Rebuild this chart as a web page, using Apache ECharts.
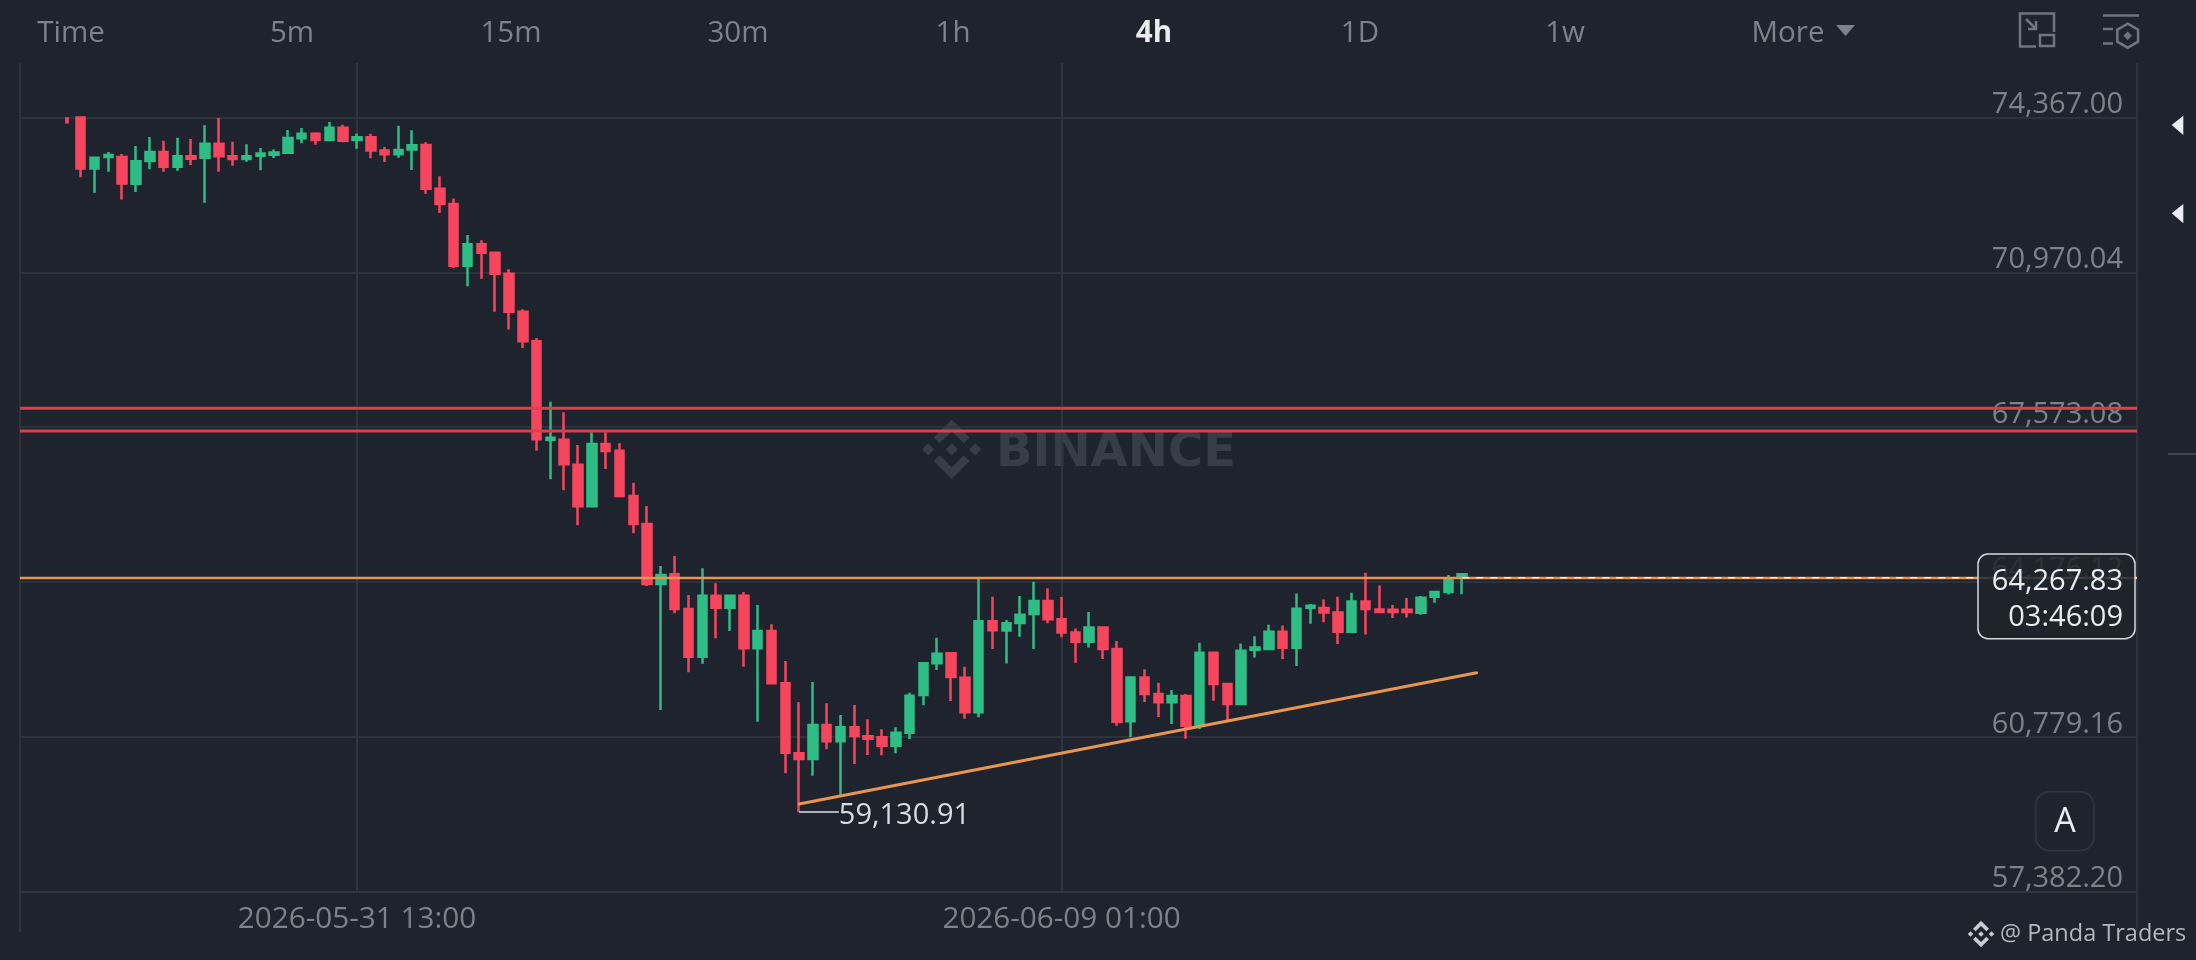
<!DOCTYPE html>
<html><head><meta charset="utf-8">
<style>html,body{margin:0;padding:0;background:#1e232d}#c{width:2196px;height:960px}</style>
<script src="https://cdn.jsdelivr.net/npm/echarts@6/dist/echarts.min.js"></script>
</head><body><div id="c"></div>
<script>
// ---- data ----
const candleTimes = [
 "2026-05-28 05:00","2026-05-28 09:00","2026-05-28 13:00","2026-05-28 17:00","2026-05-28 21:00",
 "2026-05-29 01:00","2026-05-29 05:00","2026-05-29 09:00","2026-05-29 13:00","2026-05-29 17:00","2026-05-29 21:00",
 "2026-05-30 01:00","2026-05-30 05:00","2026-05-30 09:00","2026-05-30 13:00","2026-05-30 17:00","2026-05-30 21:00",
 "2026-05-31 01:00","2026-05-31 05:00","2026-05-31 09:00","2026-05-31 13:00","2026-05-31 17:00","2026-05-31 21:00",
 "2026-06-01 01:00","2026-06-01 05:00","2026-06-01 09:00","2026-06-01 13:00","2026-06-01 17:00","2026-06-01 21:00",
 "2026-06-02 01:00","2026-06-02 05:00","2026-06-02 09:00","2026-06-02 13:00","2026-06-02 17:00","2026-06-02 21:00",
 "2026-06-03 01:00","2026-06-03 05:00","2026-06-03 09:00","2026-06-03 13:00","2026-06-03 17:00","2026-06-03 21:00",
 "2026-06-04 01:00","2026-06-04 05:00","2026-06-04 09:00","2026-06-04 13:00","2026-06-04 17:00","2026-06-04 21:00",
 "2026-06-05 01:00","2026-06-05 05:00","2026-06-05 09:00","2026-06-05 13:00","2026-06-05 17:00","2026-06-05 21:00",
 "2026-06-06 01:00","2026-06-06 05:00","2026-06-06 09:00","2026-06-06 13:00","2026-06-06 17:00","2026-06-06 21:00",
 "2026-06-07 01:00","2026-06-07 05:00","2026-06-07 09:00","2026-06-07 13:00","2026-06-07 17:00","2026-06-07 21:00",
 "2026-06-08 01:00","2026-06-08 05:00","2026-06-08 09:00","2026-06-08 13:00","2026-06-08 17:00","2026-06-08 21:00",
 "2026-06-09 01:00","2026-06-09 05:00","2026-06-09 09:00","2026-06-09 13:00","2026-06-09 17:00","2026-06-09 21:00",
 "2026-06-10 01:00","2026-06-10 05:00","2026-06-10 09:00","2026-06-10 13:00","2026-06-10 17:00","2026-06-10 21:00",
 "2026-06-11 01:00","2026-06-11 05:00","2026-06-11 09:00","2026-06-11 13:00","2026-06-11 17:00","2026-06-11 21:00",
 "2026-06-12 01:00","2026-06-12 05:00","2026-06-12 09:00","2026-06-12 13:00","2026-06-12 17:00","2026-06-12 21:00",
 "2026-06-13 01:00","2026-06-13 05:00","2026-06-13 09:00","2026-06-13 13:00","2026-06-13 17:00","2026-06-13 21:00"
];
// open, close, low, high
const ohlc = [
[74367,73251,73054,74367],[73251,73485,72718,73485],[73500,73544,73178,73610],[73500,72922,72571,73566],
[72915,73405,72732,73741],[73412,73610,73230,73939],[73610,73288,73178,73858],[73288,73515,73200,73924],
[73515,73464,73325,73895],[73485,73793,72498,74195],[73793,73515,73178,74356],[73515,73456,73310,73836],
[73456,73515,73398,73778],[73529,73580,73208,73698],[73551,73602,73478,73668],[73595,73917,73595,74092],
[73910,74012,73800,74136],[74012,73873,73771,74041],[73873,74144,73844,74268],[74144,73858,73822,74209],
[73873,73932,73683,74019],[73932,73646,73471,74012],[73646,73559,73390,73719],[73559,73654,73485,74188],
[73668,73756,73215,74085],[73763,72805,72696,73822],[72805,72469,72272,73076],[72469,71116,71058,72593],
[71116,71584,70663,71789],[71584,71401,70831,71672],[71401,70941,70107,71401],[70941,70107,69719,71036],
[70107,69456,69310,70158],[69456,67306,67058,69529],[67299,67343,66429,68133],[67299,66758,66187,67899],
[66750,65836,65420,67182],[65836,67204,65836,67460],[67204,67050,66655,67460],[67058,66063,66063,67219],
[66063,65449,65244,66356],[65449,64132,64089,65844],[64132,64330,61368,64527],[64345,63584,63489,64747],
[63584,62538,62195,63891],[62538,63876,62385,64476],[63876,63613,62940,64147],[63613,63876,63101,63891],
[63876,62721,62319,63957],[62721,63101,61112,63672],[63101,61953,61953,63248],[61953,60432,59979,62443],
[60417,60293,59130.91,61536],[60293,61039,59927,61982],[61039,60681,60505,61514],[60681,60988,59503,61258],
[60988,60798,60184,61478],[60790,60739,60381,61163],[60769,60586,60374,60944],[60586,60871,60417,60988],
[60871,61683,60732,61748],[61697,62392,61471,62392],[62392,62604,62246,62955],[62611,62092,61566,62626],
[62077,61317,61178,62319],[61317,63313,61207,64242],[63313,63116,62706,63855],[63115,63269,62391,63342],
[63276,63459,62976,63868],[63473,63759,62706,64183],[63759,63357,63269,64037],[63357,63071,62962,63846],
[63071,62867,62406,63159],[62867,63181,62742,63517],[63181,62706,62486,63188],[62706,61111,61024,62881],
[61119,62084,60768,62084],[62084,61718,61543,62260],[61718,61536,61214,61967],[61536,61674,61060,61806],
[61674,61024,60738,61718],[61024,62625,60950,62845],[62625,61938,61572,62625],[61938,61499,61148,61938],
[61499,62669,61499,62830],[62691,62742,62523,62984],[62706,63086,62706,63240],[63086,62735,62486,63225],
[62735,63590,62333,63927],[63612,63656,63261,63693],[63605,63510,63291,63795],[63510,63086,62815,63854],
[63086,63751,63086,63942],[63751,63583,63027,64380],[63576,63517,63503,64102],[63569,63517,63386,63671],
[63569,63517,63400,63825],[63503,63832,63459,63868],[63854,63956,63722,63963],[63956,64249,63905,64329],
[64267.83,64345,63906,64345]
];
// the wick of the candle cut off by the left of the visible price range
const clippedTime = "2026-05-28 01:00";
const clippedOhlc = [74367,74239,74239,74367];
const priceTicks = [74367.00,70970.04,67573.08,64176.12,60779.16,57382.20];
const dateTicks = ["2026-05-31 13:00","2026-06-09 01:00"];
const axisStart = "2026-05-27 11:26", axisEnd = "2026-06-22 00:22";
const priceMin = 57382.20, priceMax = 75563;
const redLevels = [67987,67489];
const orangeLevel = 64264;
const lastPrice = 64267.83, lastTime = "2026-06-13 21:00", countdown = "03:46:09";
const trendLine = [["2026-06-05 21:00",59305],["2026-06-14 01:10",62186]];
const lowPrice = 59130.91, lowTime = "2026-06-05 21:00", lowLabelTime = "2026-06-06 08:31";
const tabs = ["Time","5m","15m","30m","1h","4h","1D","1w","More"];
const activeTab = "4h";

// ---- styles ----
const FONT='"Open Sans"', BG='#1e232d', GRID='#32373f', MUTED='#7d828a', UP='#2ebd85', DOWN='#f6465d', RED='#d8404e', ORANGE='#e8954f', ICON='#6f7580';
const tabCx=[71,292,511,738,953,1154,1360,1565,1788];
const fmt = v=>v.toLocaleString('en-US',{minimumFractionDigits:2,maximumFractionDigits:2});

function logo(cx,cy,s,fill,z){
  const shapes=[[[63,0],[101,38],[88.7,50.3],[63,25],[37.3,50.3],[25,38]],
    [[63,126],[101,88],[88.7,75.7],[63,101],[37.3,75.7],[25,88]],
    [[63,50],[76,63],[63,76],[50,63]],[[13,50],[26,63],[13,76],[0,63]],[[113,50],[126,63],[113,76],[100,63]]];
  return shapes.map(p=>({type:'polygon',z,silent:true,shape:{points:p.map(q=>[cx+(q[0]-63)*s,cy+(q[1]-63)*s])},style:{fill}}));
}
const line=(x1,y1,x2,y2,stroke,lineWidth)=>({type:'line',silent:true,shape:{x1,y1,x2,y2},style:{stroke,lineWidth}});
const poly=(points,stroke,lineWidth)=>({type:'polyline',silent:true,shape:{points},style:{stroke,lineWidth,fill:null}});
const tri=(points,fill)=>({type:'polygon',silent:true,shape:{points},style:{fill}});
const txt=(x,y,text,fontSize,fill,align,extra)=>({type:'text',silent:true,x,y,style:Object.assign({text,fontSize,fill,align,verticalAlign:'middle',fontFamily:FONT},extra||{})});

const hex=[];for(let k=0;k<6;k++){const a=-Math.PI/2+k*Math.PI/3;hex.push([2127.7+12*Math.cos(a),35.7+12*Math.sin(a)]);}

const graphics=[
 line(20,63,20,932,GRID,1.5), line(2137,63,2137,932,GRID,1.5), line(2168,454,2196,454,'#4a4f58',1.5),
 ...tabs.map((t,i)=>txt(tabCx[i],33.5,t,29.5,t===activeTab?'#eaecef':MUTED,'center',t===activeTab?{fontWeight:'bold'}:{})),
 tri([[1836,25],[1855,25],[1845.5,36]],MUTED),
 poly([[2054,32],[2054,13.5],[2020,13.5],[2020,46.5],[2036,46.5]],ICON,2.5),
 {type:'rect',silent:true,shape:{x:2040,y:35,width:14,height:11},style:{stroke:ICON,lineWidth:2.5,fill:null}},
 poly([[2026,19],[2036,29]],ICON,2.5), poly([[2036,21],[2036,29],[2028,29]],ICON,2.5),
 line(2103,15.5,2139,15.5,ICON,2.5), line(2103,29,2113,29,ICON,2.5), line(2103,43.5,2113,43.5,ICON,2.5),
 {type:'polygon',silent:true,shape:{points:hex},style:{stroke:ICON,lineWidth:2.5,fill:null}},
 tri([[2127.7,31.5],[2132,35.7],[2127.7,40],[2123.4,35.7]],ICON),
 tri([[2171.7,125],[2183.3,115.7],[2183.3,135]],'#eaecef'),
 tri([[2171.7,213.3],[2183.3,204],[2183.3,223.3]],'#eaecef'),
 ...logo(951.7,449.3,0.47,'#373c46',0),
 txt(996,454,'BINANCE',48,'#373c46','left',{fontWeight:'bold',fontFamily:'"DejaVu Sans"'}),
 {type:'rect',z:50,silent:true,shape:{x:1978,y:554,width:157,height:84.7,r:10},style:{fill:'rgba(30,35,45,0.85)',stroke:'#d5d8dc',lineWidth:1.5}},
 Object.assign(txt(2123,581.5,fmt(lastPrice),29,'#eaecef','right'),{z:51}),
 Object.assign(txt(2123,618,countdown,29,'#eaecef','right'),{z:51}),
 {type:'rect',z:50,silent:true,shape:{x:2035.7,y:791.7,width:58.3,height:59,r:14},style:{fill:BG,stroke:'#2e333d',lineWidth:2}},
 Object.assign(txt(2065,822,'A',34,'#eaecef','center'),{z:51}),
 ...logo(1981,934,0.21,'#c8ccd2',51),
 Object.assign(txt(2000,934,'@ Panda Traders',23.5,'#b4b8be','left'),{z:51})
];

const hline=(name,time0,time1,val,color,width,type)=>({name,type:'line',symbol:'none',silent:true,z:6,animation:false,clip:true,
  lineStyle:{color,width,type:type||'solid'},data:[[time0,val],[time1,val]]});

const chart=echarts.init(document.getElementById('c'),null,{renderer:'canvas'});
chart.setOption({
 animation:false, backgroundColor:BG, textStyle:{fontFamily:FONT},
 grid:{left:20,top:63,width:2117,height:828.7,containLabel:false},
 xAxis:{type:'time',min:axisStart,max:axisEnd,
  axisLine:{show:true,lineStyle:{color:GRID,width:1.5}},axisTick:{show:false,customValues:dateTicks},
  splitLine:{show:true,lineStyle:{color:GRID,width:1.5}},
  axisLabel:{customValues:dateTicks,margin:13,fontSize:29.7,color:MUTED,fontFamily:FONT,hideOverlap:false,formatter:'{yyyy}-{MM}-{dd} {HH}:{mm}'}},
 yAxis:{type:'value',position:'right',min:priceMin,max:priceMax,scale:true,
  axisLine:{show:false},axisTick:{show:false,customValues:priceTicks},
  splitLine:{show:true,lineStyle:{color:GRID,width:1.5}},
  axisLabel:{customValues:priceTicks,inside:true,margin:14,fontSize:29,color:MUTED,fontFamily:FONT,verticalAlign:'bottom',lineHeight:25,formatter:v=>fmt(v)}},
 graphic:{elements:graphics},
 series:[
  {name:'clipped',type:'candlestick',barWidth:3,z:3,itemStyle:{color:UP,color0:DOWN,borderColor:UP,borderColor0:DOWN,borderWidth:0.5},
   encode:{x:0,y:[1,2,3,4]},data:[[clippedTime,...clippedOhlc]]},
  {name:'BTCUSDT',type:'candlestick',barWidth:9,z:4,itemStyle:{color:UP,color0:DOWN,borderColor:UP,borderColor0:DOWN,borderWidth:2.5},
   encode:{x:0,y:[1,2,3,4]},data:candleTimes.map((t,i)=>[t,...ohlc[i]]),
   markLine:{silent:true,symbol:'none',animation:false,z:8,lineStyle:{color:'#dfe2e6',width:1.5,type:'solid'},
    label:{show:true,position:'end',formatter:fmt(lowPrice),fontSize:29,color:'#d8dbe0',fontFamily:FONT,distance:0,offset:[0,4]},
    data:[[{coord:[lowTime,lowPrice]},{coord:[lowLabelTime,lowPrice]}]]}},
  ...redLevels.map((v,i)=>hline('red'+i,axisStart,axisEnd,v,RED,3)),
  hline('orange',axisStart,axisEnd,orangeLevel,ORANGE,2.5),
  hline('last',lastTime,axisEnd,lastPrice,'#f2e6da',1.5,[7,7]),
  {name:'trend',type:'line',symbol:'none',silent:true,z:7,animation:false,lineStyle:{color:ORANGE,width:3,cap:'round'},data:trendLine}
 ]
});
</script></body></html>
